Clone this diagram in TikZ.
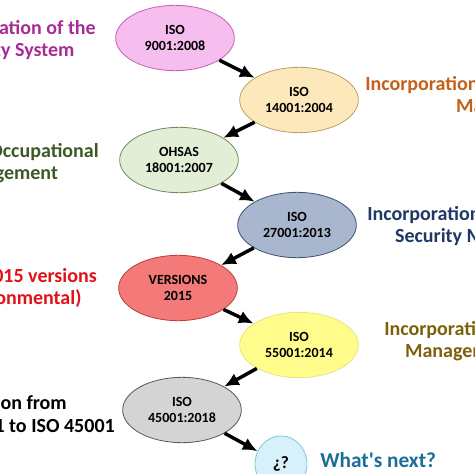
\documentclass[tikz,border=0pt]{standalone}
\usepackage{fontspec}
\setmainfont{Carlito}
\usetikzlibrary{shapes.geometric,arrows.meta}

\definecolor{pinkfill}{RGB}{246,190,238}
\definecolor{pinkline}{RGB}{196,96,186}
\definecolor{creamfill}{RGB}{253,232,188}
\definecolor{creamline}{RGB}{186,160,104}
\definecolor{greenfill}{RGB}{226,238,214}
\definecolor{greenline}{RGB}{112,140,92}
\definecolor{slatefill}{RGB}{168,182,206}
\definecolor{slateline}{RGB}{64,82,112}
\definecolor{redfill}{RGB}{244,122,122}
\definecolor{redline}{RGB}{186,62,62}
\definecolor{yellowfill}{RGB}{255,252,140}
\definecolor{yellowline}{RGB}{232,228,130}
\definecolor{greyfill}{RGB}{212,212,212}
\definecolor{greyline}{RGB}{88,88,88}
\definecolor{skyfill}{RGB}{216,240,250}
\definecolor{skyline}{RGB}{124,200,226}

\definecolor{txtmagenta}{RGB}{168,44,150}
\definecolor{txtorange}{RGB}{197,96,24}
\definecolor{txtgreen}{RGB}{62,90,36}
\definecolor{txtnavy}{RGB}{31,56,100}
\definecolor{txtred}{RGB}{226,16,24}
\definecolor{txtolive}{RGB}{124,96,10}
\definecolor{txtteal}{RGB}{28,110,150}

\tikzset{
  isonode/.style={ellipse, draw, line width=0.6pt, minimum width=89pt,
    minimum height=49pt, inner sep=0pt, align=center,
    font=\bfseries\fontsize{10.5}{11.5}\selectfont},
  milestone/.style={inner sep=0pt, align=center,
    font=\bfseries\fontsize{15}{17}\selectfont},
  flow/.style={line width=2.6pt, -{Latex[length=11pt,width=10pt]}}
}

\begin{document}
\begin{tikzpicture}[x=0.75pt, y=-0.75pt]

  % Canvas 474 x 474 px, y downward; labels run past the edges
  \useasboundingbox (0,0) rectangle (474,474);
  \clip (0,0) rectangle (474,474);

  % Standards, zig-zag down the middle
  \node[isonode, fill=pinkfill,   draw=pinkline]   (iso9001)  at (175, 38) {ISO\\9001:2008};
  \node[isonode, fill=creamfill,  draw=creamline]  (iso14001) at (299,100) {ISO\\14001:2004};
  \node[isonode, fill=greenfill,  draw=greenline]  (ohsas)    at (179,160) {OHSAS\\18001:2007};
  \node[isonode, fill=slatefill,  draw=slateline]  (iso27001) at (297,225) {ISO\\27001:2013};
  \node[isonode, fill=redfill,    draw=redline]    (versions) at (178,288) {VERSIONS\\2015};
  \node[isonode, fill=yellowfill, draw=yellowline] (iso55001) at (299,345) {ISO\\55001:2014};
  \node[isonode, fill=greyfill,   draw=greyline]   (iso45001) at (182,410) {ISO\\45001:2018};
  \node[isonode, fill=skyfill,    draw=skyline, minimum width=39pt,
        minimum height=42pt, font=\bfseries\fontsize{13}{15}\selectfont]
                                                   (next)     at (281,464) {¿?};

  % Arrows between the steps
  \foreach \a/\b in {iso9001/iso14001, iso14001/ohsas, ohsas/iso27001,
                     iso27001/versions, versions/iso55001, iso55001/iso45001,
                     iso45001/next} {
    \draw[flow] (\a) -- (\b);
  }

  % Left captions
  \node[milestone, text=txtmagenta, anchor=east] (capquality) at ( 96, 40)
    {Incorporation of the\\Quality System};
  \node[milestone, text=txtgreen, anchor=east] (capohs) at ( 99,163)
    {Incorporation of Occupational\\Safety Management};
  \node[milestone, text=txtred, anchor=east] (capversions) at ( 97,288)
    {Adaptation to the 2015 versions\\(Quality and Environmental)};
  \node[milestone, text=black, anchor=east] (capmigration) at (115,414)
    {Migration from\\OHSAS 18001 to ISO 45001};

  % Right captions
  \node[milestone, text=txtorange, anchor=west] (capenv) at (365, 96)
    {Incorporation of the Environmental\\Management};
  \node[milestone, text=txtnavy, anchor=west] (capsecurity) at (367,226)
    {Incorporation of Information\\Security Management};
  \node[milestone, text=txtolive, anchor=west] (capasset) at (384,341)
    {Incorporation of the Asset\\Management System};
  \node[milestone, text=txtteal, anchor=west,
        font=\bfseries\fontsize{16}{18}\selectfont] (capnext) at (320,460)
    {What\textquotesingle s next?};

\end{tikzpicture}
\end{document}
